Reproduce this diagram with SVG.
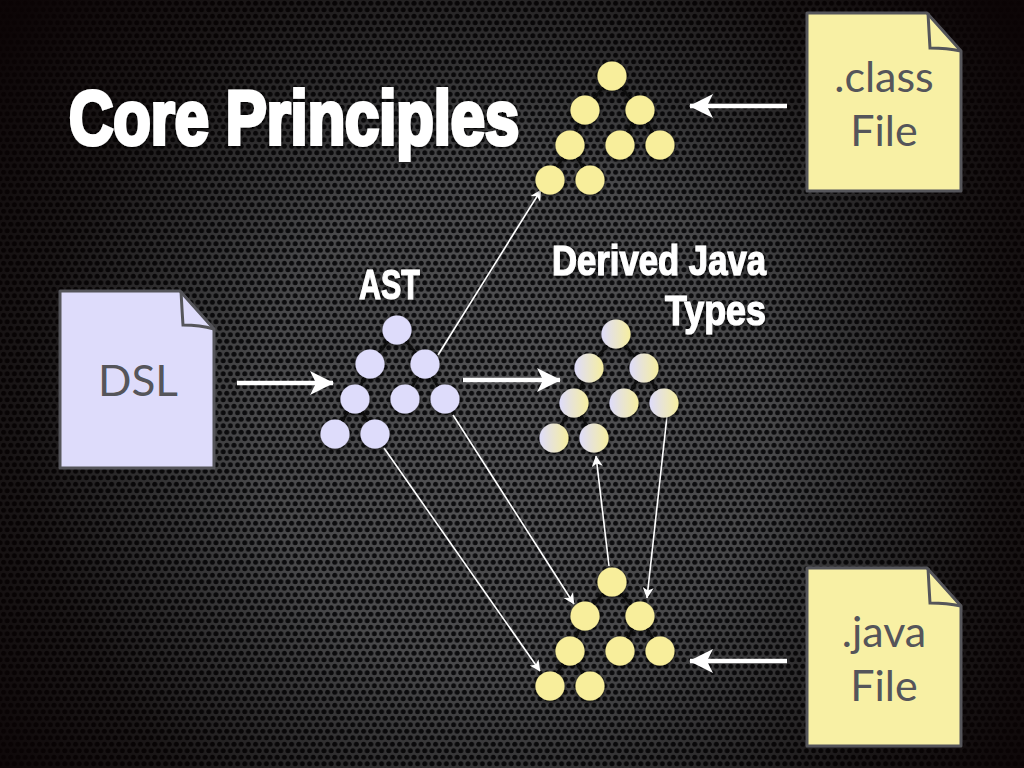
<svg xmlns="http://www.w3.org/2000/svg" xmlns:xlink="http://www.w3.org/1999/xlink" width="1024" height="768" viewBox="0 0 1024 768">
<style>
.doc{stroke:#55555a;stroke-width:3;stroke-linejoin:round}
.fold{fill:none;stroke:#55555a;stroke-width:3}
.docLabel{font-family:"Lato","Open Sans",sans-serif;font-size:43px;fill:#55555a;text-anchor:middle}
.head{font-family:"Liberation Sans Narrow","Liberation Sans",Arial,sans-serif;font-weight:bold;fill:#fff;stroke:#fff;stroke-linejoin:miter;text-anchor:end}
.thin{stroke:#fff;stroke-width:1.6;fill:none}
.thick{stroke:#fff;stroke-width:4.5;fill:none}
</style>
<defs>
<pattern id="holes" width="7.2" height="13" patternUnits="userSpaceOnUse">
<rect width="7.2" height="13" fill="#535355"/>
<circle cx="3.6" cy="3.25" r="2.5" fill="#0e0e10"/>
<circle cx="0" cy="9.75" r="2.5" fill="#0e0e10"/>
<circle cx="7.2" cy="9.75" r="2.5" fill="#0e0e10"/>
</pattern>
<radialGradient id="vig" gradientUnits="userSpaceOnUse" cx="512" cy="420" r="640">
<stop offset="0" stop-color="#000" stop-opacity="0"/>
<stop offset="0.4" stop-color="#000" stop-opacity="0.12"/>
<stop offset="0.75" stop-color="#050000" stop-opacity="0.72"/>
<stop offset="1" stop-color="#0a0304" stop-opacity="0.97"/>
</radialGradient>
<linearGradient id="mix" x1="0" x2="1" y1="0" y2="0">
<stop offset="0" stop-color="#dedcfb"/>
<stop offset="1" stop-color="#f6eea0"/>
</linearGradient>
<marker id="headBig" viewBox="0 0 24 24" refX="23" refY="12" markerWidth="24" markerHeight="24" markerUnits="userSpaceOnUse" orient="auto">
<path d="M0 0L24 12L0 24L6 12Z" fill="#fff"/>
</marker>
<marker id="headSmall" viewBox="0 0 11 11" refX="10.5" refY="5.5" markerWidth="11" markerHeight="11" markerUnits="userSpaceOnUse" orient="auto">
<path d="M0 0L11 5.5L0 11L3 5.5Z" fill="#fff"/>
</marker>
<g id="tree">
<path d="M0 0L-27 34M0 0L28 34M-27 34L-42 69M-42 69L-62 104M-42 69L-22 104M28 34L8 69M28 34L48 69" stroke="#0a0a0a" stroke-width="2.5" fill="none"/>
<circle cx="0" cy="0" r="14.5"/>
<circle cx="-27" cy="34" r="14.5"/>
<circle cx="28" cy="34" r="14.5"/>
<circle cx="-42" cy="69" r="14.5"/>
<circle cx="8" cy="69" r="14.5"/>
<circle cx="48" cy="69" r="14.5"/>
<circle cx="-62" cy="104" r="14.5"/>
<circle cx="-22" cy="104" r="14.5"/>
</g>
<filter id="sh" x="-10%" y="-10%" width="120%" height="120%"><feDropShadow dx="0" dy="1" stdDeviation="2" flood-color="#000" flood-opacity="0.9"/></filter>
</defs>
<rect id="background" width="1024" height="768" fill="url(#holes)"/>
<rect width="1024" height="768" fill="url(#vig)"/>
<text class="head" x="519" y="143.5" font-size="76" stroke-width="4" textLength="450" lengthAdjust="spacingAndGlyphs" filter="url(#sh)" id="title">Core Principles</text>
<g id="connectors">
<line class="thick" x1="237" y1="383" x2="333" y2="383" marker-end="url(#headBig)"/>
<line class="thick" x1="463" y1="380" x2="560" y2="380" marker-end="url(#headBig)"/>
<line class="thick" x1="787" y1="106" x2="690" y2="106" marker-end="url(#headBig)"/>
<line class="thick" x1="787" y1="661" x2="690" y2="661" marker-end="url(#headBig)"/>
<line class="thin" x1="438" y1="355" x2="541" y2="190" marker-end="url(#headSmall)"/>
<line class="thin" x1="453" y1="415" x2="574" y2="604" marker-end="url(#headSmall)"/>
<line class="thin" x1="384" y1="448" x2="540" y2="671" marker-end="url(#headSmall)"/>
<line class="thin" x1="609" y1="566" x2="596" y2="456" marker-end="url(#headSmall)"/>
<line class="thin" x1="667" y1="416" x2="647" y2="598" marker-end="url(#headSmall)"/>
</g>
<g id="classTree"><use href="#tree" x="612" y="76" fill="#f8ee9b" filter="url(#sh)"/></g>
<g id="astTree"><use href="#tree" x="397" y="330" fill="#dedcfb" filter="url(#sh)"/></g>
<g id="derivedTree"><use href="#tree" x="616" y="334" fill="url(#mix)" filter="url(#sh)"/></g>
<g id="javaTree"><use href="#tree" x="612" y="582" fill="#f8ee9b" filter="url(#sh)"/></g>
<g id="dslDoc">
<path class="doc" d="M60 291H180L214 329V468H60Z" fill="#dedcfb"/>
<path class="fold" d="M181 291Q182 310 183 325Q200 325 214 329"/>
<text class="docLabel" x="138" y="396" textLength="80" lengthAdjust="spacingAndGlyphs">DSL</text>
</g>
<g id="classDoc">
<path class="doc" d="M807 13H927L961 51V191H807Z" fill="#f8f0a4"/>
<path class="fold" d="M928 13Q929 32 930 48Q947 48 961 51"/>
<text class="docLabel" x="884" y="92">.class</text>
<text class="docLabel" x="884" y="146">File</text>
</g>
<g id="javaDoc">
<path class="doc" d="M807 568H927L961 606V746H807Z" fill="#f8f0a4"/>
<path class="fold" d="M928 568Q929 587 930 603Q947 603 961 606"/>
<text class="docLabel" x="884" y="647">.java</text>
<text class="docLabel" x="884" y="701">File</text>
</g>
<g id="astLabel"><text class="head" x="420" y="299" font-size="43" stroke-width="1.2" textLength="61" lengthAdjust="spacingAndGlyphs" filter="url(#sh)">AST</text></g>
<g id="derivedLabel">
<text class="head" x="766" y="274.5" font-size="43" stroke-width="1.2" textLength="214" lengthAdjust="spacingAndGlyphs" filter="url(#sh)">Derived Java</text>
<text class="head" x="766" y="325" font-size="43" stroke-width="1.2" textLength="101" lengthAdjust="spacingAndGlyphs" filter="url(#sh)">Types</text>
</g>
</svg>
